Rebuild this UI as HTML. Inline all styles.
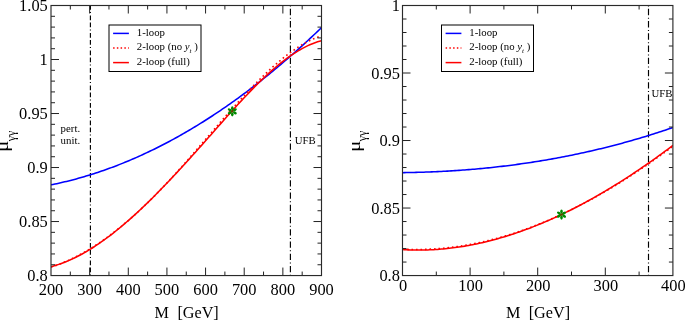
<!DOCTYPE html>
<html><head><meta charset="utf-8"><style>
html,body{margin:0;padding:0;background:#fff;}
svg{display:block;}
text{font-family:"Liberation Serif","DejaVu Serif",serif;fill:#000;}
.tk{font-size:16.4px;}
.lg{font-size:10.8px;}
.ax{font-size:16.2px;}
.mu{font-size:17px;}
.sub{font-size:12px;}
</style></head><body>
<svg width="685" height="321" viewBox="0 0 685 321">
<rect width="685" height="321" fill="#fff"/>
<defs><clipPath id="cl"><rect x="51.0" y="5.5" width="270.5" height="270.05"/></clipPath><clipPath id="cr"><rect x="402.5" y="5.5" width="270.4" height="270.05"/></clipPath></defs><line x1="90.4" y1="5.5" x2="90.4" y2="275.55" stroke="#000" stroke-width="1.15" stroke-dasharray="1 2.35 4.75 2.35 4.75 2.3" stroke-dashoffset="10.90"/><line x1="290.4" y1="5.5" x2="290.4" y2="275.55" stroke="#000" stroke-width="1.15" stroke-dasharray="6.3 2.5 1 2.44" stroke-dashoffset="8.88"/><g clip-path="url(#cl)"><polyline points="51.00,184.86 52.95,184.47 54.89,184.06 56.84,183.64 58.78,183.21 60.73,182.77 62.68,182.32 64.62,181.86 66.57,181.39 68.51,180.91 70.46,180.42 72.41,179.92 74.35,179.40 76.30,178.88 78.24,178.34 80.19,177.80 82.14,177.24 84.08,176.67 86.03,176.10 87.97,175.51 89.92,174.91 91.87,174.30 93.81,173.68 95.76,173.05 97.71,172.41 99.65,171.76 101.60,171.09 103.54,170.42 105.49,169.74 107.44,169.04 109.38,168.34 111.33,167.62 113.27,166.90 115.22,166.16 117.17,165.41 119.11,164.65 121.06,163.88 123.00,163.10 124.95,162.31 126.90,161.51 128.84,160.70 130.79,159.88 132.73,159.05 134.68,158.20 136.63,157.35 138.57,156.48 140.52,155.61 142.46,154.72 144.41,153.83 146.36,152.92 148.30,152.00 150.25,151.07 152.19,150.13 154.14,149.18 156.09,148.22 158.03,147.25 159.98,146.27 161.92,145.28 163.87,144.27 165.82,143.26 167.76,142.24 169.71,141.20 171.65,140.16 173.60,139.10 175.55,138.03 177.49,136.95 179.44,135.87 181.38,134.77 183.33,133.66 185.28,132.54 187.22,131.41 189.17,130.26 191.12,129.11 193.06,127.95 195.01,126.78 196.95,125.59 198.90,124.40 200.85,123.19 202.79,121.98 204.74,120.75 206.68,119.51 208.63,118.26 210.58,117.01 212.52,115.74 214.47,114.46 216.41,113.17 218.36,111.86 220.31,110.55 222.25,109.23 224.20,107.90 226.14,106.55 228.09,105.20 230.04,103.83 231.98,102.46 233.93,101.07 235.87,99.67 237.82,98.27 239.77,96.85 241.71,95.42 243.66,93.98 245.60,92.53 247.55,91.07 249.50,89.59 251.44,88.11 253.39,86.62 255.33,85.12 257.28,83.60 259.23,82.08 261.17,80.54 263.12,78.99 265.06,77.44 267.01,75.87 268.96,74.29 270.90,72.70 272.85,71.10 274.79,69.49 276.74,67.87 278.69,66.24 280.63,64.60 282.58,62.94 284.53,61.28 286.47,59.61 288.42,57.92 290.36,56.23 292.31,54.52 294.26,52.80 296.20,51.07 298.15,49.34 300.09,47.59 302.04,45.83 303.99,44.06 305.93,42.28 307.88,40.49 309.82,38.68 311.77,36.87 313.72,35.05 315.66,33.21 317.61,31.37 319.55,29.51 321.50,27.65" fill="none" stroke="#0000ff" stroke-width="1.55" stroke-linejoin="round" /><polyline points="51.00,266.69 52.95,266.17 54.89,265.61 56.84,265.01 58.78,264.37 60.73,263.70 62.68,262.99 64.62,262.24 66.57,261.46 68.51,260.64 70.46,259.79 72.41,258.90 74.35,257.98 76.30,257.02 78.24,256.04 80.19,255.01 82.14,253.96 84.08,252.87 86.03,251.75 87.97,250.61 89.92,249.43 91.87,248.22 93.81,246.98 95.76,245.71 97.71,244.41 99.65,243.08 101.60,241.73 103.54,240.35 105.49,238.94 107.44,237.50 109.38,236.04 111.33,234.55 113.27,233.04 115.22,231.50 117.17,229.94 119.11,228.35 121.06,226.75 123.00,225.11 124.95,223.46 126.90,221.78 128.84,220.08 130.79,218.36 132.73,216.62 134.68,214.86 136.63,213.08 138.57,211.28 140.52,209.46 142.46,207.63 144.41,205.77 146.36,203.90 148.30,202.01 150.25,200.10 152.19,198.18 154.14,196.24 156.09,194.28 158.03,192.31 159.98,190.33 161.92,188.33 163.87,186.32 165.82,184.29 167.76,182.26 169.71,180.21 171.65,178.15 173.60,176.07 175.55,173.99 177.49,171.90 179.44,169.79 181.38,167.68 183.33,165.56 185.28,163.42 187.22,161.28 189.17,159.14 191.12,156.98 193.06,154.82 195.01,152.65 196.95,150.48 198.90,148.30 200.85,146.12 202.79,143.93 204.74,141.74 206.68,139.54 208.63,137.34 210.58,135.14 212.52,132.93 214.47,130.73 216.41,128.52 218.36,126.32 220.31,124.12 222.25,121.92 224.20,119.72 226.14,117.54 228.09,115.35 230.04,113.18 231.98,111.02 233.93,108.86 235.87,106.72 237.82,104.59 239.77,102.47 241.71,100.37 243.66,98.29 245.60,96.22 247.55,94.16 249.50,92.13 251.44,90.12 253.39,88.13 255.33,86.16 257.28,84.22 259.23,82.30 261.17,80.41 263.12,78.54 265.06,76.70 267.01,74.89 268.96,73.12 270.90,71.37 272.85,69.65 274.79,67.97 276.74,66.33 278.69,64.72 280.63,63.15 282.58,61.61 284.53,60.12 286.47,58.66 288.42,57.25 290.36,55.88 292.31,54.56 294.26,53.28 296.20,52.04 298.15,50.85 300.09,49.72 302.04,48.63 303.99,47.59 305.93,46.60 307.88,45.67 309.82,44.79 311.77,43.96 313.72,43.19 315.66,42.48 317.61,41.83 319.55,41.23 321.50,40.70" fill="none" stroke="#ff0000" stroke-width="1.55" stroke-linejoin="round" /><polyline points="51.00,267.08 52.95,266.45 54.89,265.80 56.84,265.11 58.78,264.40 60.73,263.65 62.68,262.87 64.62,262.06 66.57,261.22 68.51,260.36 70.46,259.46 72.41,258.54 74.35,257.58 76.30,256.60 78.24,255.59 80.19,254.55 82.14,253.48 84.08,252.38 86.03,251.26 87.97,250.11 89.92,248.93 91.87,247.73 93.81,246.50 95.76,245.24 97.71,243.96 99.65,242.65 101.60,241.31 103.54,239.95 105.49,238.57 107.44,237.15 109.38,235.72 111.33,234.26 113.27,232.77 115.22,231.26 117.17,229.73 119.11,228.17 121.06,226.59 123.00,224.99 124.95,223.36 126.90,221.71 128.84,220.04 130.79,218.34 132.73,216.62 134.68,214.88 136.63,213.12 138.57,211.34 140.52,209.53 142.46,207.71 144.41,205.86 146.36,203.99 148.30,202.11 150.25,200.20 152.19,198.27 154.14,196.32 156.09,194.36 158.03,192.37 159.98,190.36 161.92,188.34 163.87,186.29 165.82,184.23 167.76,182.15 169.71,180.05 171.65,177.94 173.60,175.81 175.55,173.67 177.49,171.51 179.44,169.34 181.38,167.16 183.33,164.97 185.28,162.76 187.22,160.55 189.17,158.33 191.12,156.10 193.06,153.87 195.01,151.62 196.95,149.38 198.90,147.13 200.85,144.87 202.79,142.61 204.74,140.36 206.68,138.10 208.63,135.84 210.58,133.58 212.52,131.32 214.47,129.07 216.41,126.82 218.36,124.57 220.31,122.33 222.25,120.10 224.20,117.87 226.14,115.65 228.09,113.44 230.04,111.23 231.98,109.04 233.93,106.86 235.87,104.69 237.82,102.54 239.77,100.40 241.71,98.27 243.66,96.16 245.60,94.06 247.55,91.99 249.50,89.93 251.44,87.89 253.39,85.87 255.33,83.87 257.28,81.89 259.23,79.93 261.17,78.00 263.12,76.09 265.06,74.21 267.01,72.35 268.96,70.52 270.90,68.72 272.85,66.95 274.79,65.21 276.74,63.50 278.69,61.83 280.63,60.19 282.58,58.58 284.53,57.02 286.47,55.49 288.42,54.00 290.36,52.55 292.31,51.15 294.26,49.79 296.20,48.47 298.15,47.20 300.09,45.97 302.04,44.79 303.99,43.66 305.93,42.59 307.88,41.56 309.82,40.58 311.77,39.66 313.72,38.80 315.66,37.99 317.61,37.24 319.55,36.55 321.50,35.92" fill="none" stroke="#ff0000" stroke-width="1.6" stroke-linejoin="round" stroke-dasharray="1.6 2.9"/></g><g><ellipse cx="232.30" cy="108.30" rx="2.1" ry="1.3" transform="rotate(-90 232.30 108.30)" fill="#008a00"/><ellipse cx="234.90" cy="109.80" rx="2.1" ry="1.3" transform="rotate(-30 234.90 109.80)" fill="#008a00"/><ellipse cx="229.70" cy="109.80" rx="2.1" ry="1.3" transform="rotate(-150 229.70 109.80)" fill="#008a00"/><ellipse cx="229.70" cy="112.80" rx="2.1" ry="1.3" transform="rotate(-210 229.70 112.80)" fill="#008a00"/><ellipse cx="232.30" cy="114.30" rx="2.1" ry="1.3" transform="rotate(-270 232.30 114.30)" fill="#008a00"/><ellipse cx="234.90" cy="112.80" rx="2.1" ry="1.3" transform="rotate(-330 234.90 112.80)" fill="#008a00"/><circle cx="232.3" cy="111.3" r="1.2" fill="#5a4800"/></g><path d="M89.64 275.55V267.55M89.64 5.5V13.5M128.29 275.55V267.55M128.29 5.5V13.5M166.93 275.55V267.55M166.93 5.5V13.5M205.57 275.55V267.55M205.57 5.5V13.5M244.21 275.55V267.55M244.21 5.5V13.5M282.86 275.55V267.55M282.86 5.5V13.5M70.32 275.55V271.55M70.32 5.5V9.5M108.96 275.55V271.55M108.96 5.5V9.5M147.61 275.55V271.55M147.61 5.5V9.5M186.25 275.55V271.55M186.25 5.5V9.5M224.89 275.55V271.55M224.89 5.5V9.5M263.54 275.55V271.55M263.54 5.5V9.5M302.18 275.55V271.55M302.18 5.5V9.5M51.0 221.54H59.0M321.5 221.54H313.5M51.0 167.53H59.0M321.5 167.53H313.5M51.0 113.52H59.0M321.5 113.52H313.5M51.0 59.51H59.0M321.5 59.51H313.5M51.0 264.75H55.0M321.5 264.75H317.5M51.0 253.95H55.0M321.5 253.95H317.5M51.0 243.14H55.0M321.5 243.14H317.5M51.0 232.34H55.0M321.5 232.34H317.5M51.0 210.74H55.0M321.5 210.74H317.5M51.0 199.94H55.0M321.5 199.94H317.5M51.0 189.13H55.0M321.5 189.13H317.5M51.0 178.33H55.0M321.5 178.33H317.5M51.0 156.73H55.0M321.5 156.73H317.5M51.0 145.93H55.0M321.5 145.93H317.5M51.0 135.12H55.0M321.5 135.12H317.5M51.0 124.32H55.0M321.5 124.32H317.5M51.0 102.72H55.0M321.5 102.72H317.5M51.0 91.92H55.0M321.5 91.92H317.5M51.0 81.11H55.0M321.5 81.11H317.5M51.0 70.31H55.0M321.5 70.31H317.5M51.0 48.71H55.0M321.5 48.71H317.5M51.0 37.91H55.0M321.5 37.91H317.5M51.0 27.10H55.0M321.5 27.10H317.5M51.0 16.30H55.0M321.5 16.30H317.5" stroke="#222" stroke-width="1" fill="none"/><rect x="51.0" y="5.5" width="270.5" height="270.05" fill="none" stroke="#2a2a2a" stroke-width="1.15"/><rect x="109.0" y="25" width="92" height="46.5" fill="#fff" stroke="#000" stroke-width="1"/><line x1="113.1" y1="33.4" x2="128.9" y2="33.4" stroke="#0000ff" stroke-width="1.5"/><line x1="113.1" y1="48" x2="128.9" y2="48" stroke="#ff0000" stroke-width="1.5" stroke-dasharray="1.5 2.25"/><line x1="113.1" y1="62.6" x2="128.9" y2="62.6" stroke="#ff0000" stroke-width="1.5"/><text x="136.8" y="35.8" class="lg">1-loop</text><text x="136.8" y="49.6" class="lg">2-loop (no <tspan font-style="italic">y</tspan><tspan font-style="italic" font-size="7" dy="3">t</tspan><tspan dy="-3"> )</tspan></text><text x="136.8" y="65.1" class="lg">2-loop (full)</text><line x1="648.5" y1="5.5" x2="648.5" y2="275.55" stroke="#000" stroke-width="1.15" stroke-dasharray="6.3 2.5 1 2.44" stroke-dashoffset="8.88"/><g clip-path="url(#cr)"><polyline points="402.50,172.65 404.45,172.62 406.39,172.59 408.34,172.56 410.28,172.52 412.23,172.48 414.17,172.44 416.12,172.39 418.06,172.34 420.01,172.29 421.95,172.23 423.90,172.16 425.84,172.10 427.79,172.03 429.73,171.95 431.68,171.87 433.63,171.79 435.57,171.71 437.52,171.62 439.46,171.52 441.41,171.43 443.35,171.32 445.30,171.22 447.24,171.11 449.19,170.99 451.13,170.88 453.08,170.76 455.02,170.63 456.97,170.50 458.91,170.37 460.86,170.23 462.81,170.09 464.75,169.94 466.70,169.79 468.64,169.64 470.59,169.48 472.53,169.31 474.48,169.15 476.42,168.98 478.37,168.80 480.31,168.62 482.26,168.44 484.20,168.25 486.15,168.06 488.09,167.86 490.04,167.66 491.98,167.46 493.93,167.25 495.88,167.03 497.82,166.81 499.77,166.59 501.71,166.36 503.66,166.13 505.60,165.90 507.55,165.66 509.49,165.41 511.44,165.16 513.38,164.91 515.33,164.65 517.27,164.39 519.22,164.12 521.16,163.85 523.11,163.57 525.06,163.29 527.00,163.01 528.95,162.72 530.89,162.42 532.84,162.12 534.78,161.82 536.73,161.51 538.67,161.20 540.62,160.88 542.56,160.56 544.51,160.23 546.45,159.90 548.40,159.56 550.34,159.22 552.29,158.88 554.24,158.53 556.18,158.17 558.13,157.81 560.07,157.45 562.02,157.08 563.96,156.70 565.91,156.32 567.85,155.94 569.80,155.55 571.74,155.15 573.69,154.75 575.63,154.35 577.58,153.94 579.52,153.52 581.47,153.11 583.42,152.68 585.36,152.25 587.31,151.82 589.25,151.38 591.20,150.93 593.14,150.48 595.09,150.03 597.03,149.57 598.98,149.11 600.92,148.64 602.87,148.16 604.81,147.68 606.76,147.20 608.70,146.71 610.65,146.21 612.59,145.71 614.54,145.20 616.49,144.69 618.43,144.18 620.38,143.65 622.32,143.13 624.27,142.59 626.21,142.06 628.16,141.51 630.10,140.97 632.05,140.41 633.99,139.85 635.94,139.29 637.88,138.72 639.83,138.14 641.77,137.56 643.72,136.98 645.67,136.39 647.61,135.79 649.56,135.19 651.50,134.58 653.45,133.96 655.39,133.35 657.34,132.72 659.28,132.09 661.23,131.46 663.17,130.81 665.12,130.17 667.06,129.51 669.01,128.86 670.95,128.19 672.90,127.52" fill="none" stroke="#0000ff" stroke-width="1.55" stroke-linejoin="round" /><polyline points="402.50,249.60 404.45,249.71 406.39,249.81 408.34,249.89 410.28,249.96 412.23,250.01 414.17,250.05 416.12,250.08 418.06,250.09 420.01,250.08 421.95,250.06 423.90,250.03 425.84,249.98 427.79,249.92 429.73,249.84 431.68,249.75 433.63,249.65 435.57,249.53 437.52,249.40 439.46,249.25 441.41,249.09 443.35,248.92 445.30,248.73 447.24,248.53 449.19,248.32 451.13,248.09 453.08,247.85 455.02,247.60 456.97,247.33 458.91,247.05 460.86,246.75 462.81,246.44 464.75,246.12 466.70,245.79 468.64,245.44 470.59,245.08 472.53,244.70 474.48,244.32 476.42,243.92 478.37,243.50 480.31,243.08 482.26,242.64 484.20,242.19 486.15,241.72 488.09,241.25 490.04,240.76 491.98,240.26 493.93,239.74 495.88,239.21 497.82,238.67 499.77,238.12 501.71,237.56 503.66,236.98 505.60,236.39 507.55,235.79 509.49,235.18 511.44,234.56 513.38,233.92 515.33,233.27 517.27,232.61 519.22,231.94 521.16,231.25 523.11,230.56 525.06,229.85 527.00,229.13 528.95,228.40 530.89,227.66 532.84,226.90 534.78,226.14 536.73,225.36 538.67,224.57 540.62,223.77 542.56,222.96 544.51,222.14 546.45,221.30 548.40,220.46 550.34,219.60 552.29,218.74 554.24,217.86 556.18,216.97 558.13,216.07 560.07,215.16 562.02,214.24 563.96,213.31 565.91,212.36 567.85,211.41 569.80,210.44 571.74,209.47 573.69,208.48 575.63,207.49 577.58,206.48 579.52,205.47 581.47,204.44 583.42,203.40 585.36,202.36 587.31,201.30 589.25,200.23 591.20,199.15 593.14,198.07 595.09,196.97 597.03,195.86 598.98,194.74 600.92,193.62 602.87,192.48 604.81,191.33 606.76,190.18 608.70,189.01 610.65,187.83 612.59,186.65 614.54,185.46 616.49,184.25 618.43,183.04 620.38,181.82 622.32,180.58 624.27,179.34 626.21,178.09 628.16,176.83 630.10,175.56 632.05,174.29 633.99,173.00 635.94,171.70 637.88,170.40 639.83,169.09 641.77,167.76 643.72,166.43 645.67,165.09 647.61,163.74 649.56,162.39 651.50,161.02 653.45,159.65 655.39,158.27 657.34,156.87 659.28,155.48 661.23,154.07 663.17,152.65 665.12,151.23 667.06,149.80 669.01,148.36 670.95,146.91 672.90,145.45" fill="none" stroke="#ff0000" stroke-width="1.55" stroke-linejoin="round" /><polyline points="402.50,249.12 404.45,249.21 406.39,249.29 408.34,249.36 410.28,249.41 412.23,249.45 414.17,249.47 416.12,249.48 418.06,249.47 420.01,249.46 421.95,249.43 423.90,249.38 425.84,249.33 427.79,249.25 429.73,249.17 431.68,249.07 433.63,248.96 435.57,248.84 437.52,248.70 439.46,248.55 441.41,248.38 443.35,248.21 445.30,248.02 447.24,247.81 449.19,247.60 451.13,247.37 453.08,247.13 455.02,246.87 456.97,246.60 458.91,246.32 460.86,246.03 462.81,245.72 464.75,245.41 466.70,245.07 468.64,244.73 470.59,244.37 472.53,244.01 474.48,243.62 476.42,243.23 478.37,242.82 480.31,242.41 482.26,241.97 484.20,241.53 486.15,241.08 488.09,240.61 490.04,240.13 491.98,239.64 493.93,239.13 495.88,238.62 497.82,238.09 499.77,237.55 501.71,237.00 503.66,236.43 505.60,235.86 507.55,235.27 509.49,234.67 511.44,234.06 513.38,233.44 515.33,232.80 517.27,232.16 519.22,231.50 521.16,230.83 523.11,230.15 525.06,229.46 527.00,228.75 528.95,228.04 530.89,227.31 532.84,226.57 534.78,225.82 536.73,225.06 538.67,224.29 540.62,223.51 542.56,222.72 544.51,221.91 546.45,221.10 548.40,220.27 550.34,219.43 552.29,218.58 554.24,217.72 556.18,216.85 558.13,215.97 560.07,215.08 562.02,214.18 563.96,213.26 565.91,212.34 567.85,211.41 569.80,210.46 571.74,209.51 573.69,208.54 575.63,207.56 577.58,206.58 579.52,205.58 581.47,204.57 583.42,203.55 585.36,202.52 587.31,201.49 589.25,200.44 591.20,199.38 593.14,198.31 595.09,197.23 597.03,196.14 598.98,195.04 600.92,193.93 602.87,192.81 604.81,191.69 606.76,190.55 608.70,189.40 610.65,188.24 612.59,187.07 614.54,185.90 616.49,184.71 618.43,183.51 620.38,182.30 622.32,181.09 624.27,179.86 626.21,178.63 628.16,177.38 630.10,176.13 632.05,174.87 633.99,173.60 635.94,172.32 637.88,171.02 639.83,169.72 641.77,168.42 643.72,167.10 645.67,165.77 647.61,164.43 649.56,163.09 651.50,161.74 653.45,160.37 655.39,159.00 657.34,157.62 659.28,156.23 661.23,154.83 663.17,153.43 665.12,152.01 667.06,150.59 669.01,149.15 670.95,147.71 672.90,146.26" fill="none" stroke="#ff0000" stroke-width="1.6" stroke-linejoin="round" stroke-dasharray="1.6 2.9"/></g><g><ellipse cx="561.50" cy="211.60" rx="2.1" ry="1.3" transform="rotate(-90 561.50 211.60)" fill="#008a00"/><ellipse cx="564.10" cy="213.10" rx="2.1" ry="1.3" transform="rotate(-30 564.10 213.10)" fill="#008a00"/><ellipse cx="558.90" cy="213.10" rx="2.1" ry="1.3" transform="rotate(-150 558.90 213.10)" fill="#008a00"/><ellipse cx="558.90" cy="216.10" rx="2.1" ry="1.3" transform="rotate(-210 558.90 216.10)" fill="#008a00"/><ellipse cx="561.50" cy="217.60" rx="2.1" ry="1.3" transform="rotate(-270 561.50 217.60)" fill="#008a00"/><ellipse cx="564.10" cy="216.10" rx="2.1" ry="1.3" transform="rotate(-330 564.10 216.10)" fill="#008a00"/><circle cx="561.5" cy="214.6" r="1.2" fill="#5a4800"/></g><path d="M470.10 275.55V267.55M470.10 5.5V13.5M537.70 275.55V267.55M537.70 5.5V13.5M605.30 275.55V267.55M605.30 5.5V13.5M436.30 275.55V271.55M436.30 5.5V9.5M503.90 275.55V271.55M503.90 5.5V9.5M571.50 275.55V271.55M571.50 5.5V9.5M639.10 275.55V271.55M639.10 5.5V9.5M402.5 208.04H410.5M672.9 208.04H664.9M402.5 140.53H410.5M672.9 140.53H664.9M402.5 73.01H410.5M672.9 73.01H664.9M402.5 262.05H406.5M672.9 262.05H668.9M402.5 248.55H406.5M672.9 248.55H668.9M402.5 235.04H406.5M672.9 235.04H668.9M402.5 221.54H406.5M672.9 221.54H668.9M402.5 194.54H406.5M672.9 194.54H668.9M402.5 181.03H406.5M672.9 181.03H668.9M402.5 167.53H406.5M672.9 167.53H668.9M402.5 154.03H406.5M672.9 154.03H668.9M402.5 127.02H406.5M672.9 127.02H668.9M402.5 113.52H406.5M672.9 113.52H668.9M402.5 100.02H406.5M672.9 100.02H668.9M402.5 86.52H406.5M672.9 86.52H668.9M402.5 59.51H406.5M672.9 59.51H668.9M402.5 46.01H406.5M672.9 46.01H668.9M402.5 32.51H406.5M672.9 32.51H668.9M402.5 19.00H406.5M672.9 19.00H668.9" stroke="#222" stroke-width="1" fill="none"/><rect x="402.5" y="5.5" width="270.4" height="270.05" fill="none" stroke="#2a2a2a" stroke-width="1.15"/><rect x="441.5" y="25" width="92" height="46.5" fill="#fff" stroke="#000" stroke-width="1"/><line x1="445.6" y1="33.4" x2="461.4" y2="33.4" stroke="#0000ff" stroke-width="1.5"/><line x1="445.6" y1="48" x2="461.4" y2="48" stroke="#ff0000" stroke-width="1.5" stroke-dasharray="1.5 2.25"/><line x1="445.6" y1="62.6" x2="461.4" y2="62.6" stroke="#ff0000" stroke-width="1.5"/><text x="469.3" y="35.8" class="lg">1-loop</text><text x="469.3" y="49.6" class="lg">2-loop (no <tspan font-style="italic">y</tspan><tspan font-style="italic" font-size="7" dy="3">t</tspan><tspan dy="-3"> )</tspan></text><text x="469.3" y="65.1" class="lg">2-loop (full)</text>
<text x="47.8" y="11.3" class="tk" text-anchor="end">1.05</text><text x="47.8" y="65.3" class="tk" text-anchor="end">1</text><text x="47.8" y="119.3" class="tk" text-anchor="end">0.95</text><text x="47.8" y="173.3" class="tk" text-anchor="end">0.9</text><text x="47.8" y="227.3" class="tk" text-anchor="end">0.85</text><text x="47.8" y="281.4" class="tk" text-anchor="end">0.8</text><text x="51.0" y="294.6" class="tk" text-anchor="middle">200</text><text x="89.6" y="294.6" class="tk" text-anchor="middle">300</text><text x="128.3" y="294.6" class="tk" text-anchor="middle">400</text><text x="166.9" y="294.6" class="tk" text-anchor="middle">500</text><text x="205.6" y="294.6" class="tk" text-anchor="middle">600</text><text x="244.2" y="294.6" class="tk" text-anchor="middle">700</text><text x="282.9" y="294.6" class="tk" text-anchor="middle">800</text><text x="321.5" y="294.6" class="tk" text-anchor="middle">900</text><text x="399.9" y="11.3" class="tk" text-anchor="end">1</text><text x="399.9" y="78.8" class="tk" text-anchor="end">0.95</text><text x="399.9" y="146.3" class="tk" text-anchor="end">0.9</text><text x="399.9" y="213.8" class="tk" text-anchor="end">0.85</text><text x="399.9" y="281.4" class="tk" text-anchor="end">0.8</text><text x="403.0" y="290.8" class="tk" text-anchor="middle">0</text><text x="470.6" y="290.8" class="tk" text-anchor="middle">100</text><text x="538.2" y="290.8" class="tk" text-anchor="middle">200</text><text x="605.8" y="290.8" class="tk" text-anchor="middle">300</text><text x="673.4" y="290.8" class="tk" text-anchor="middle">400</text><text x="154.4" y="318" class="ax">M</text><text x="177.4" y="318" class="ax">[GeV]</text><text x="505.9" y="318" class="ax">M</text><text x="528.7" y="318" class="ax">[GeV]</text><g transform="translate(8.1,151.9) rotate(-90)"><text x="0" y="0" class="mu" transform="scale(1.25,1)">μ</text><text x="10.6" y="6.5" class="sub">γγ</text></g><g transform="translate(359.70000000000005,151.9) rotate(-90)"><text x="0" y="0" class="mu" transform="scale(1.25,1)">μ</text><text x="10.6" y="6.5" class="sub">γγ</text></g><text x="60.6" y="132.0" class="lg">pert.</text><text x="60.6" y="144.1" class="lg">unit.</text><text x="294.8" y="143.9" class="lg">UFB</text><text x="651.5" y="96.6" class="lg">UFB</text>
</svg>
</body></html>
